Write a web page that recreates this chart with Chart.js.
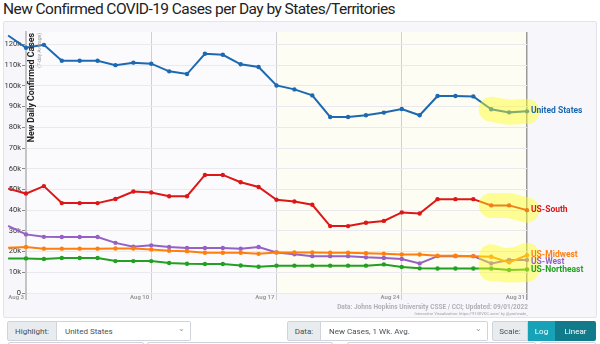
<!DOCTYPE html>
<html>
<head>
<meta charset="utf-8">
<script src="https://cdn.jsdelivr.net/npm/chart.js@4.4.1/dist/chart.umd.min.js"></script>
<style>
  body { margin: 0; width: 600px; height: 344px; overflow: hidden; background: #fff; font-family: Roboto, sans-serif; position: relative; }
  #title { position: absolute; left: 3px; top: 0; font-size: 15.5px; letter-spacing: -0.55px; color: #222; line-height: 19px; white-space: nowrap; }
  #panel { position: absolute; left: 3px; top: 21px; width: 592px; height: 295px; border: 1px solid #e3e3ea; background: #f7f7fb; border-radius: 2px; }
  #wrap { position: absolute; left: 0; top: 0; width: 600px; height: 318px; }
  #source { position: absolute; right: 72px; top: 303px; text-align: right; color: #b0b0b4; font-weight: bold; font-size: 6.5px; line-height: 8px; white-space: nowrap; }
  #source small { display: block; font-size: 4px; line-height: 5px; font-weight: normal; color: #a0a0a4; }
  .grp { position: absolute; top: 321px; height: 20px; display: flex; font-size: 8px; color: #495057; }
  .lab { background: #e9ecef; border: 1px solid #ced4da; border-radius: 2px 0 0 2px; display: flex; align-items: center; justify-content: center; box-sizing: border-box; }
  .sel { background: #fff; border: 1px solid #ced4da; border-left: none; border-radius: 0 2px 2px 0; display: flex; align-items: center; padding-left: 8px; box-sizing: border-box; position: relative; }
  .sel:after { content: "\2304"; position: absolute; right: 5px; top: 2px; font-size: 8px; color: #999; }
  .btn { color: #fff; display: flex; align-items: center; justify-content: center; box-sizing: border-box; }
  .row2 { position: absolute; top: 342px; height: 10px; border: 1px solid #ced4da; border-radius: 2px; background: #fff; box-sizing: border-box; }
</style>
</head>
<body>
<div id="title">New Confirmed COVID-19 Cases per Day by States/Territories</div>
<div id="panel"></div>
<div id="wrap"><canvas id="chart"></canvas></div>
<div id="source">Data: Johns Hopkins University CSSE / CCI; Updated: 09/01/2022<small>Interactive Visualization: https://91-DIVOC.com/ by @profwade_</small></div>

<div class="grp" style="left:7px">
  <div class="lab" style="width:50px">Highlight:</div>
  <div class="sel" style="width:134px">United States</div>
</div>
<div class="grp" style="left:287px">
  <div class="lab" style="width:34px">Data:</div>
  <div class="sel" style="width:167px">New Cases, 1 Wk. Avg.</div>
</div>
<div class="grp" style="left:492px">
  <div class="lab" style="width:36px">Scale:</div>
  <div class="btn" style="width:27px;background:#17a2b8">Log</div>
  <div class="btn" style="width:41px;background:#117a8b;border-radius:0 2px 2px 0">Linear</div>
</div>
<div class="row2" style="left:8px;width:136px"></div>
<div class="row2" style="left:147px;width:186px"></div>
<div class="row2" style="left:347px;width:189px"></div>
<div class="row2" style="left:540px;width:56px"></div>

<script>
// jours d'août
const days = [2, 3, 4, 5, 6, 7, 8, 9, 10, 11, 12, 13, 14, 15, 16, 17, 18, 19, 20, 21, 22, 23, 24, 25, 26, 27, 28, 29, 30, 31];
const weekTicks = [3, 10, 17, 24, 31];
const weekLabels = ['Aug 3', 'Aug 10', 'Aug 17', 'Aug 24', 'Aug 31'];
const yTicks = [0, 10000, 20000, 30000, 40000, 50000, 60000, 70000, 80000, 90000, 100000, 110000, 120000];
const yLabels = ['0', '10k', '20k', '30k', '40k', '50k', '60k', '70k', '80k', '90k', '100k', '110k', '120k'];
const highlightDays = [29, 30, 31];

const regionNames = ['United States', 'US-South', 'US-Midwest', 'US-West', 'US-Northeast'];
const regionColors = ['#1d69b1', '#dd1717', '#ff7f0e', '#9561c4', '#22a022'];

// nouveaux cas, moyenne sur 7 jours
const unitedStates = [124300, 118400, 119800, 112100, 112100, 112100, 110000, 111200, 110700, 107000, 105700, 115500, 115000, 110400, 109100,
  100200, 98300, 95400, 85000, 85000, 85800, 87100, 88800, 85800, 95100, 95100, 94900, 88700, 87200, 87700];
const usSouth = [50400, 48000, 51600, 43400, 43400, 43400, 45400, 49000, 48500, 46700, 46700, 57000, 57000, 53500, 51200,
  45000, 44200, 42600, 32300, 32300, 33900, 34800, 38900, 38400, 45300, 45300, 45300, 42300, 42300, 40000];
const usMidwest = [21800, 22200, 21400, 21400, 21400, 21400, 21500, 21500, 21000, 20400, 20200, 19400, 19400, 19400, 18900,
  19600, 19600, 19600, 19400, 19400, 19200, 19000, 18600, 18600, 18000, 18000, 17800, 17500, 14800, 18200];
const usWest = [32400, 28300, 27100, 27000, 27000, 27000, 24200, 22300, 23000, 22200, 21700, 21700, 21700, 21400, 22200,
  19600, 18700, 17800, 17800, 17800, 17200, 16900, 16400, 14300, 17800, 17800, 17800, 14300, 15900, 15900];
const usNortheast = [16700, 16700, 16400, 16900, 16900, 16900, 15400, 15400, 15400, 14500, 14100, 14000, 14000, 13300, 12700,
  13200, 13200, 13200, 13200, 13200, 13200, 13800, 12600, 11900, 11800, 11800, 11800, 11800, 11100, 11400];

const series = [unitedStates, usSouth, usMidwest, usWest, usNortheast];

// fonds de la zone de tracé
const backgroundPlugin = {
  id: 'backgrounds',
  beforeDraw(chart) {
    const { ctx, chartArea: a, scales: { x } } = chart;
    ctx.save();
    ctx.fillStyle = '#fbfbfe';
    ctx.fillRect(x.getPixelForValue(3), a.top, x.getPixelForValue(17) - x.getPixelForValue(3), a.bottom - a.top);
    ctx.fillStyle = '#fdfdf3';
    ctx.fillRect(x.getPixelForValue(17), a.top, x.getPixelForValue(31) - x.getPixelForValue(17), a.bottom - a.top);
    ctx.restore();
  }
};

// surlignage jaune des derniers jours
const highlightPlugin = {
  id: 'highlight',
  afterDatasetsDraw(chart) {
    const { ctx, scales: { x, y } } = chart;
    const off = document.createElement('canvas');
    off.width = chart.width;
    off.height = chart.height;
    const o = off.getContext('2d');
    o.strokeStyle = '#ffff20';
    o.lineWidth = 25;
    o.lineCap = 'round';
    o.lineJoin = 'round';
    series.forEach(values => {
      o.beginPath();
      highlightDays.forEach((d, i) => {
        const px = x.getPixelForValue(d);
        const py = y.getPixelForValue(values[days.indexOf(d)]);
        if (i === 0) o.moveTo(px, py); else o.lineTo(px, py);
      });
      o.stroke();
    });
    ctx.save();
    ctx.globalAlpha = 0.45;
    ctx.drawImage(off, 0, 0, chart.width, chart.height);
    ctx.restore();
  }
};

// titres de l'axe y et étiquettes en bout de courbe
const labelPlugin = {
  id: 'labels',
  afterDraw(chart) {
    const { ctx, chartArea: a, scales: { x, y } } = chart;
    ctx.save();
    ctx.translate(x.getPixelForValue(3) + 6, a.top + 1);
    ctx.rotate(-Math.PI / 2);
    ctx.textAlign = 'right';
    ctx.textBaseline = 'middle';
    ctx.fillStyle = '#222';
    ctx.font = 'bold 8.8px Roboto';
    ctx.fillText('New Daily Confirmed Cases', 0, 0);
    ctx.fillStyle = '#999';
    ctx.font = '5px Roboto';
    ctx.fillText('(7-day Average)', 0, 7.5);
    ctx.restore();

    const last = days.length - 1;
    const items = series.map((values, i) => ({ name: regionNames[i], color: regionColors[i], py: y.getPixelForValue(values[last]) }));
    items.sort((p, q) => p.py - q.py);
    for (let i = 1; i < items.length; i++) {
      if (items[i].py - items[i - 1].py < 7) items[i].py = items[i - 1].py + 7;
    }
    ctx.save();
    ctx.font = 'bold 8.5px Roboto';
    ctx.textAlign = 'left';
    ctx.textBaseline = 'middle';
    items.forEach(it => {
      ctx.fillStyle = it.color;
      ctx.fillText(it.name, x.getPixelForValue(31) + 4, it.py);
    });
    ctx.restore();
  }
};

const xGridColor = ctx => ctx.index === 0 ? '#c4c4c4' : (ctx.index === weekTicks.length - 1 ? '#9a9a9a' : '#d0d0d4');
const xGridWidth = ctx => ctx.index === 0 ? 2 : (ctx.index === weekTicks.length - 1 ? 1.5 : 1);

new Chart(document.getElementById('chart'), {
  type: 'line',
  data: {
    labels: days,
    datasets: series.map((values, i) => ({
      label: regionNames[i],
      data: values,
      borderColor: regionColors[i],
      backgroundColor: regionColors[i],
      borderWidth: 2,
      pointRadius: 2.2,
      pointBorderWidth: 0,
      pointBackgroundColor: regionColors[i],
      tension: 0,
      clip: false
    }))
  },
  options: {
    responsive: true,
    maintainAspectRatio: false,
    animation: false,
    layout: { padding: { top: 32, right: 73, left: 0, bottom: 0 } },
    plugins: { legend: { display: false }, tooltip: { enabled: false } },
    scales: {
      x: {
        type: 'linear',
        min: 3,
        max: 31,
        afterBuildTicks: s => { s.ticks = weekTicks.map(v => ({ value: v })); },
        afterFit: s => { s.height = 25; },
        ticks: {
          autoSkip: false,
          maxRotation: 0,
          align: 'end',
          padding: -6,
          labelOffset: -2,
          color: '#9a9a9a',
          font: { family: 'Roboto', size: 6, weight: 'bold' },
          callback: v => weekLabels[weekTicks.indexOf(v)]
        },
        grid: { color: xGridColor, tickColor: xGridColor, lineWidth: xGridWidth, tickLength: 7 },
        border: { display: false }
      },
      y: {
        min: 0,
        max: 126000,
        afterBuildTicks: s => { s.ticks = yTicks.map(v => ({ value: v })); },
        afterFit: s => { s.width = 26; },
        ticks: {
          autoSkip: false,
          padding: 1,
          color: '#333',
          font: { family: 'Roboto', size: 7.5 },
          callback: v => yLabels[yTicks.indexOf(v)]
        },
        grid: { color: '#e9e9ef', tickColor: '#888', tickLength: 4 },
        border: { color: '#c4c4c4', width: 2 }
      }
    }
  },
  plugins: [backgroundPlugin, highlightPlugin, labelPlugin]
});
</script>
</body>
</html>
